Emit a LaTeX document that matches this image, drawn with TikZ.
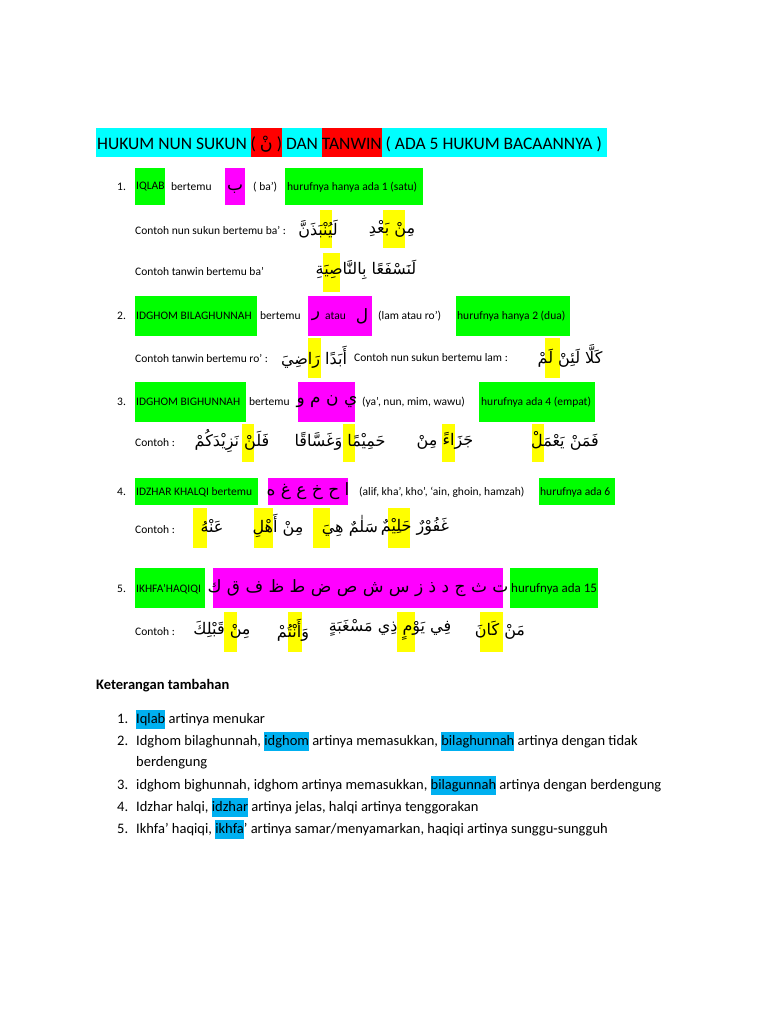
\documentclass[tikz,border=0pt]{standalone}
\usepackage{fontspec}
\setmainfont{Carlito}
\newfontfamily\arabicfont[Script=Arabic]{DejaVu Sans}
\TeXXeTstate=1
\newcommand{\ar}[1]{{\arabicfont\beginR #1\endR}}
\definecolor{hcyan}{RGB}{0,255,255}
\definecolor{hgreen}{RGB}{0,255,0}
\definecolor{hmag}{RGB}{255,0,255}
\definecolor{hyel}{RGB}{255,255,0}
\definecolor{hblue}{RGB}{0,176,240}
\definecolor{hred}{RGB}{255,0,0}
\setlength{\fboxsep}{0pt}
\newcommand{\hlb}[1]{\colorbox{hblue}{\rule[-5pt]{0pt}{19pt}#1}}
\newcommand{\hlr}[1]{\colorbox{hred}{\rule[-8pt]{0pt}{29pt}#1}}
\tikzset{
 sm/.style={anchor=west,inner sep=0pt,font=\fontsize{11.5}{13}\selectfont},
 bd/.style={anchor=west,inner sep=0pt,font=\fontsize{14.5}{16}\selectfont},
 arx/.style={inner sep=0pt,font=\fontsize{16}{20}\selectfont},
 arm/.style={inner sep=0pt,font=\fontsize{17}{20}\selectfont},
}
\begin{document}
\begin{tikzpicture}[x=1pt,y=-1pt]
\useasboundingbox (0,0) rectangle (768,1024);
\fill[white] (0,0) rectangle (768,1024);
% title
\fill[hcyan] (96,128) rectangle (607,157);
\node[anchor=west,inner sep=0pt,font=\fontsize{17.5}{19}\selectfont] (title) at (97,143) {HUKUM NUN SUKUN \hlr{( \ar{نْ} )} DAN \hlr{TANWIN} ( ADA 5 HUKUM BACAANNYA )};
% row 1
\fill[hgreen] (135,168) rectangle (165,205);
\fill[hmag] (225,168) rectangle (245,205);
\fill[hgreen] (285,168) rectangle (423,205);
\node[sm] (n1) at (117,187) {1.};
\node[sm] (a1) at (136,187) {IQLAB};
\node[sm] (b1) at (171,187) {bertemu};
\node[arm] (l1) at (235,189) {\ar{ب}};
\node[sm] (c1) at (253,187) {( ba’)};
\node[sm] (d1) at (287,187) {hurufnya hanya ada 1 (satu)};
\fill[hyel] (320,210) rectangle (332,248);
\fill[hyel] (383,210) rectangle (405,248);
\node[sm] (e1) at (135,230) {Contoh nun sukun bertemu ba’ :};
\node[arx] (x11) at (318,229) {\ar{لَيُنْبَذَنَّ}};
\node[arx] (x12) at (392,229) {\ar{مِنْ بَعْدِ}};
\fill[hyel] (323,253) rectangle (340,292);
\node[sm] (f1) at (135,271) {Contoh tanwin bertemu ba’};
\node[arx] (x13) at (366,270) {\ar{لَنَسْفَعًا بِالنَّاصِيَةِ}};
% row 2
\fill[hgreen] (135,296) rectangle (257,336);
\fill[hmag] (308,296) rectangle (372,336);
\fill[hgreen] (456,296) rectangle (570,336);
\node[sm] (n2) at (117,316) {2.};
\node[sm] (a2) at (136,316) {IDGHOM BILAGHUNNAH};
\node[sm] (b2) at (260,316) {bertemu};
\node[arm] (l2) at (316,316) {\ar{ر}};
\node[sm] (t2) at (325,316) {atau};
\node[arm] (m2) at (362,316) {\ar{ل}};
\node[sm] (c2) at (378,316) {(lam atau ro’)};
\node[sm] (d2) at (457,316) {hurufnya hanya 2 (dua)};
\fill[hyel] (308,338) rectangle (321,378);
\fill[hyel] (545,338) rectangle (560,378);
\node[sm] (e2) at (135,358) {Contoh tanwin bertemu ro’ :};
\node[arx] (x21) at (314,357) {\ar{أَبَدًا رَاضِيَ}};
\node[sm] (f2) at (354,358) {Contoh nun sukun bertemu lam :};
\node[arx] (x22) at (570,356) {\ar{كَلَّا لَئِنْ لَمْ}};
% row 3
\fill[hgreen] (135,382) rectangle (246,422);
\fill[hmag] (298,382) rectangle (355,422);
\fill[hgreen] (479,382) rectangle (595,422);
\node[sm] (n3) at (117,402) {3.};
\node[sm] (a3) at (136,402) {IDGHOM BIGHUNNAH};
\node[sm] (b3) at (249,402) {bertemu};
\node[arm] (l3) at (327,402) {\ar{ي ن م و}};
\node[sm] (c3) at (362,402) {(ya’, nun, mim, wawu)};
\node[sm] (d3) at (481,402) {hurufnya ada 4 (empat)};
\fill[hyel] (242,424) rectangle (254,462);
\fill[hyel] (343,424) rectangle (355,462);
\fill[hyel] (442,424) rectangle (455,462);
\fill[hyel] (532,424) rectangle (544,462);
\node[sm] (e3) at (135,443) {Contoh :};
\node[arx] (x31) at (232,441) {\ar{فَلَنْ نَزِيْدَكُمْ}};
\node[arx] (x32) at (340,441) {\ar{حَمِيْمًا وَغَسَّاقًا}};
\node[arx] (x33) at (445,441) {\ar{جَزَاءً مِنْ}};
\node[arx] (x34) at (565,441) {\ar{فَمَنْ يَعْمَلْ}};
% row 4
\fill[hgreen] (135,478) rectangle (258,505);
\fill[hmag] (268,478) rectangle (348,505);
\fill[hgreen] (539,478) rectangle (615,505);
\node[sm] (n4) at (117,492) {4.};
\node[sm] (a4) at (136,492) {IDZHAR KHALQI bertemu};
\node[arm] (l4) at (308,491) {\ar{ا ح خ ع غ ه}};
\node[sm] (c4) at (359,492) {(alif, kha’, kho’, ‘ain, ghoin, hamzah)};
\node[sm] (d4) at (540,492) {hurufnya ada 6};
\fill[hyel] (193,508) rectangle (207,548);
\fill[hyel] (254,508) rectangle (273,548);
\fill[hyel] (313,508) rectangle (330,548);
\fill[hyel] (388,508) rectangle (410,548);
\node[sm] (e4) at (135,530) {Contoh :};
\node[arx] (x41) at (212,526) {\ar{عَنْهُ}};
\node[arx] (x42) at (278,526) {\ar{مِنْ أَهْلِ}};
\node[arx] (x43) at (350,526) {\ar{سَلٰمٌ هِيَ}};
\node[arx] (x44) at (415,526) {\ar{غَفُوْرٌ حَلِيْمٌ}};
% row 5
\fill[hgreen] (135,568) rectangle (205,608);
\fill[hmag] (213,568) rectangle (503,608);
\fill[hgreen] (510,568) rectangle (598,608);
\node[sm] (n5) at (117,589) {5.};
\node[sm] (a5) at (136,589) {IKHFA’HAQIQI};
\node[arm] (l5) at (358,588) {\ar{ت ث ج د ذ ز س ش ص ض ط ظ ف ق ك}};
\node[anchor=west,inner sep=0pt,font=\fontsize{13}{15}\selectfont] (d5) at (511,589) {hurufnya ada 15};
\fill[hyel] (224,612) rectangle (237,652);
\fill[hyel] (288,612) rectangle (302,652);
\fill[hyel] (397,612) rectangle (415,652);
\fill[hyel] (480,612) rectangle (503,652);
\node[sm] (e5) at (135,632) {Contoh :};
\node[arx] (x51) at (222,630) {\ar{مِنْ قَبْلِكَ}};
\node[arx] (x52) at (293,630) {\ar{وَأَنْتُمْ}};
\node[arx] (x53) at (390,630) {\ar{فِي يَوْمٍ ذِي مَسْغَبَةٍ}};
\node[arx] (x54) at (500,630) {\ar{مَنْ كَانَ}};
% keterangan
\node[bd,font=\fontsize{14.5}{16}\selectfont\bfseries] (ket) at (96,686) {Keterangan tambahan};
\node[bd] (k1n) at (117,719) {1.};
\node[bd] (k1) at (136,719) {\hlb{Iqlab} artinya menukar};
\node[bd] (k2n) at (117,741) {2.};
\node[bd] (k2) at (136,741) {Idghom bilaghunnah, \hlb{idghom} artinya memasukkan, \hlb{bilaghunnah} artinya dengan tidak};
\node[bd] (k2b) at (136,763) {berdengung};
\node[bd] (k3n) at (117,785) {3.};
\node[bd] (k3) at (136,785) {idghom bighunnah, idghom artinya memasukkan, \hlb{bilagunnah} artinya dengan berdengung};
\node[bd] (k4n) at (117,807) {4.};
\node[bd] (k4) at (136,807) {Idzhar halqi, \hlb{idzhar} artinya jelas, halqi artinya tenggorakan};
\node[bd] (k5n) at (117,829) {5.};
\node[bd] (k5) at (136,829) {Ikhfa’ haqiqi, \hlb{ikhfa}’ artinya samar/menyamarkan, haqiqi artinya sunggu-sungguh};
\end{tikzpicture}
\end{document}
